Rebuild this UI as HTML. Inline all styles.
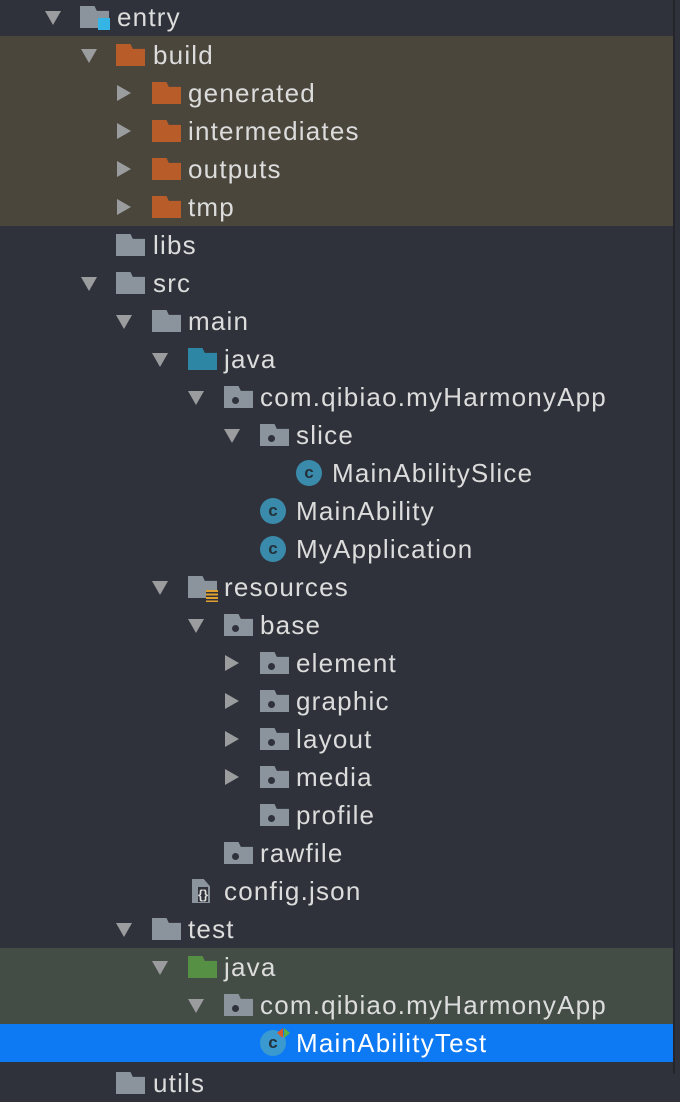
<!DOCTYPE html>
<html><head><meta charset="utf-8"><style>
body{margin:0;width:680px;height:1074px;background:#2f323a;overflow:hidden;position:relative;font-family:"Liberation Sans",sans-serif}
.band{position:absolute;left:0;width:673px}
.r{position:absolute;height:38px;left:0;right:0}
.t{position:absolute;top:6px;font-size:26px;letter-spacing:1.2px;color:#dcdcdc;line-height:26px;white-space:nowrap}
.a{position:absolute;top:13px;width:0;height:0}
.dn{border-left:8px solid transparent;border-right:8px solid transparent;border-top:14px solid #9a9c9e}
.rt{border-top:8px solid transparent;border-bottom:8px solid transparent;border-left:14px solid #9a9c9e;top:11px}
.f{position:absolute;top:8px;width:29px;height:22px;clip-path:polygon(0 0,50% 0,58% 22%,100% 22%,100% 100%,0 100%);background:#8b949c}
.o{background:#b85c2a}.b{background:#2e86a5}.g{background:#559044}
.p::after{content:"";position:absolute;left:8px;top:11px;width:7px;height:7px;border-radius:50%;background:#2f323a}
.c{position:absolute;top:6px;width:26px;height:26px;border-radius:50%;background:#3a8aab;color:#23323a;font-size:17px;line-height:25px;text-align:center;font-weight:bold}
</style></head><body>
<div class="band" style="top:36px;height:190px;background:#4a463c"></div>
<div class="band" style="top:948px;height:76px;background:#434d45"></div>
<div class="band" style="top:1024px;height:38px;background:#0d79f2"></div>
<div style="position:absolute;left:673px;top:0;width:2px;height:1074px;background:#24262b"></div>

<div class="r" style="top:-2px"><div class="a dn" style="left:45px"></div><div class="f" style="left:80px"></div><div style="position:absolute;left:98px;top:20px;width:12px;height:12px;background:#35b4e6"></div><div class="t" style="left:117px">entry</div></div>
<div class="r" style="top:36px"><div class="a dn" style="left:81px"></div><div class="f o" style="left:116px"></div><div class="t" style="left:153px">build</div></div>
<div class="r" style="top:74px"><div class="a rt" style="left:117px"></div><div class="f o" style="left:152px"></div><div class="t" style="left:188px">generated</div></div>
<div class="r" style="top:112px"><div class="a rt" style="left:117px"></div><div class="f o" style="left:152px"></div><div class="t" style="left:188px">intermediates</div></div>
<div class="r" style="top:150px"><div class="a rt" style="left:117px"></div><div class="f o" style="left:152px"></div><div class="t" style="left:188px">outputs</div></div>
<div class="r" style="top:188px"><div class="a rt" style="left:117px"></div><div class="f o" style="left:152px"></div><div class="t" style="left:188px">tmp</div></div>
<div class="r" style="top:226px"><div class="f" style="left:116px"></div><div class="t" style="left:153px">libs</div></div>
<div class="r" style="top:264px"><div class="a dn" style="left:81px"></div><div class="f" style="left:116px"></div><div class="t" style="left:153px">src</div></div>
<div class="r" style="top:302px"><div class="a dn" style="left:116px"></div><div class="f" style="left:152px"></div><div class="t" style="left:188px">main</div></div>
<div class="r" style="top:340px"><div class="a dn" style="left:152px"></div><div class="f b" style="left:188px"></div><div class="t" style="left:224px">java</div></div>
<div class="r" style="top:378px"><div class="a dn" style="left:188px"></div><div class="f p" style="left:224px"></div><div class="t" style="left:260px">com.qibiao.myHarmonyApp</div></div>
<div class="r" style="top:416px"><div class="a dn" style="left:224px"></div><div class="f p" style="left:260px"></div><div class="t" style="left:296px">slice</div></div>
<div class="r" style="top:454px"><div class="c" style="left:296px">c</div><div class="t" style="left:332px">MainAbilitySlice</div></div>
<div class="r" style="top:492px"><div class="c" style="left:260px">c</div><div class="t" style="left:296px">MainAbility</div></div>
<div class="r" style="top:530px"><div class="c" style="left:260px">c</div><div class="t" style="left:296px">MyApplication</div></div>
<div class="r" style="top:568px"><div class="a dn" style="left:152px"></div><div class="f" style="left:188px"></div><div style="position:absolute;left:206px;top:22px;width:12px;height:12px;background:repeating-linear-gradient(#e0a030 0 2px,#2f323a 2px 3.5px)"></div><div class="t" style="left:224px">resources</div></div>
<div class="r" style="top:606px"><div class="a dn" style="left:188px"></div><div class="f p" style="left:224px"></div><div class="t" style="left:260px">base</div></div>
<div class="r" style="top:644px"><div class="a rt" style="left:225px"></div><div class="f p" style="left:260px"></div><div class="t" style="left:296px">element</div></div>
<div class="r" style="top:682px"><div class="a rt" style="left:225px"></div><div class="f p" style="left:260px"></div><div class="t" style="left:296px">graphic</div></div>
<div class="r" style="top:720px"><div class="a rt" style="left:225px"></div><div class="f p" style="left:260px"></div><div class="t" style="left:296px">layout</div></div>
<div class="r" style="top:758px"><div class="a rt" style="left:225px"></div><div class="f p" style="left:260px"></div><div class="t" style="left:296px">media</div></div>
<div class="r" style="top:796px"><div class="f p" style="left:260px"></div><div class="t" style="left:296px">profile</div></div>
<div class="r" style="top:834px"><div class="f p" style="left:224px"></div><div class="t" style="left:260px">rawfile</div></div>
<div class="r" style="top:872px"><div style="position:absolute;left:192px;top:7px;width:18px;height:24px;background:#8b949c;clip-path:polygon(0 0,65% 0,100% 30%,100% 100%,0 100%)"></div><div style="position:absolute;left:198px;top:15px;font-size:13px;color:#dcdcdc;background:#2f323a;line-height:15px;font-weight:bold">{}</div><div class="t" style="left:224px">config.json</div></div>
<div class="r" style="top:910px"><div class="a dn" style="left:116px"></div><div class="f" style="left:152px"></div><div class="t" style="left:188px">test</div></div>
<div class="r" style="top:948px"><div class="a dn" style="left:152px"></div><div class="f g" style="left:188px"></div><div class="t" style="left:224px">java</div></div>
<div class="r" style="top:986px"><div class="a dn" style="left:188px"></div><div class="f p" style="left:224px"></div><div class="t" style="left:260px">com.qibiao.myHarmonyApp</div></div>
<div class="r" style="top:1024px"><div class="c" style="left:260px;background:#3a9ad0">c</div><div style="position:absolute;left:277px;top:4px;width:0;height:0;border-top:5px solid transparent;border-bottom:5px solid transparent;border-right:6px solid #d9582a"></div><div style="position:absolute;left:284px;top:4px;width:0;height:0;border-top:5px solid transparent;border-bottom:5px solid transparent;border-left:6px solid #5cb043"></div><div class="t" style="left:296px;color:#fff">MainAbilityTest</div></div>
<div class="r" style="top:1064px"><div class="f" style="left:116px"></div><div class="t" style="left:153px">utils</div></div>
</body></html>
